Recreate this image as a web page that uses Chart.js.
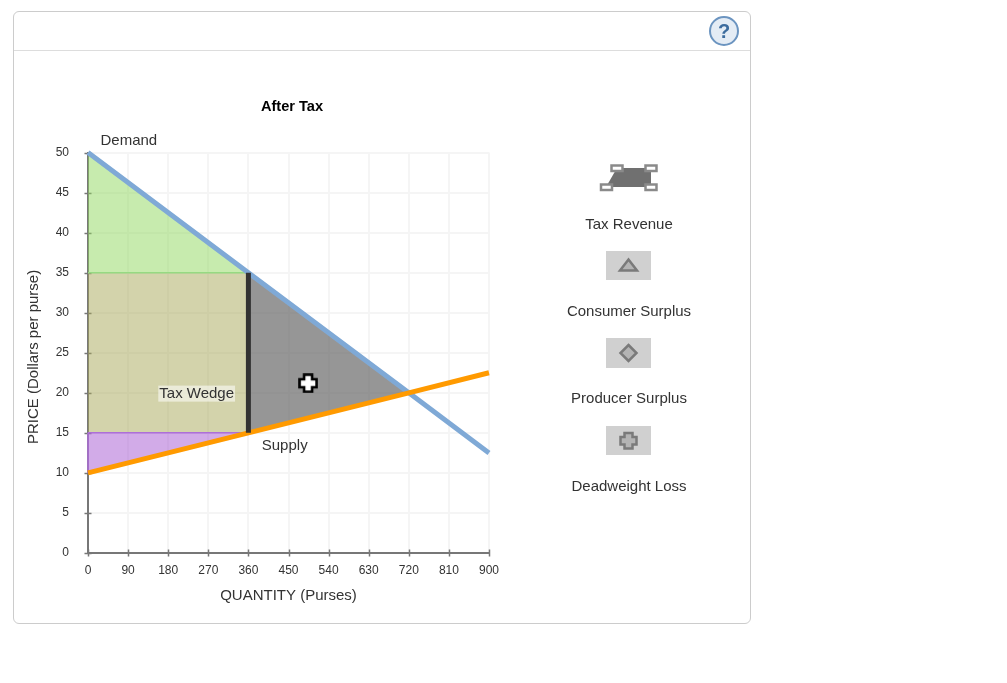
<!DOCTYPE html>
<html>
<head>
<meta charset="utf-8">
<title>After Tax</title>
<script src="https://cdn.jsdelivr.net/npm/chart.js@4"></script>
<style>
    html, body { margin: 0; padding: 0; background: #fff; }
    body { width: 1007px; height: 683px; position: relative; overflow: hidden; font-family: "Liberation Sans", Arial, sans-serif; color: #333; }
    #card { position: absolute; left: 13px; top: 11px; width: 736px; height: 611px; border: 1px solid #ccc; border-radius: 6px; }
    #cabecalho { position: absolute; left: 14px; top: 50px; width: 736px; height: 1px; background: #ddd; }
    #grafico { position: absolute; left: 0; top: 0; }
    #icones { position: absolute; left: 0; top: 0; }
    .rotulo { position: absolute; left: 549px; width: 160px; text-align: center; font-size: 15px; line-height: 18px; }
</style>
</head>
<body>
<div id="card"></div>
<div id="cabecalho"></div>
<canvas id="grafico" width="1007" height="683"></canvas>
<svg id="icones" width="1007" height="683">
    <circle cx="724" cy="31" r="14" fill="#e4ecf5" stroke="#6b94c0" stroke-width="2"/>
    <text x="724" y="38" text-anchor="middle" font-family="Liberation Sans" font-weight="bold" font-size="20" fill="#3d6c9e">?</text>

    <polygon points="617,168 651,168 651,187 606,187" fill="#707070"/>
    <g fill="#fff" stroke="#8a8a8a" stroke-width="2.5">
        <rect x="611.5" y="165.5" width="11" height="5.5"/>
        <rect x="645.5" y="165.5" width="11" height="5.5"/>
        <rect x="601" y="184.5" width="11" height="5.5"/>
        <rect x="645.5" y="184.5" width="11" height="5.5"/>
    </g>

    <g fill="#d0d0d0">
        <rect x="606" y="251" width="45" height="29"/>
        <rect x="606" y="338" width="45" height="30"/>
        <rect x="606" y="426" width="45" height="29"/>
    </g>
    <g fill="#b4b4b4" stroke="#7a7a7a" stroke-width="2.5">
        <polygon points="628.5,259.5 637,270.5 620,270.5"/>
        <polygon points="628.5,345 636.5,353 628.5,361 620.5,353"/>
        <polygon points="624.5,433 632.5,433 632.5,437 636.5,437 636.5,444.5 632.5,444.5 632.5,448.5 624.5,448.5 624.5,444.5 620.5,444.5 620.5,437 624.5,437"/>
    </g>
</svg>
<div class="rotulo" style="top:215px">Tax Revenue</div>
<div class="rotulo" style="top:302px">Consumer Surplus</div>
<div class="rotulo" style="top:389px">Producer Surplus</div>
<div class="rotulo" style="top:477px">Deadweight Loss</div>

<script>
// Dados
const quantidades = [0, 360, 720, 900];
const demanda = [50, 35, 20, 12.5];
const oferta = [10, 15, 20, 22.5];

const precoComprador = 35;
const precoVendedor = 15;
const qtdImposto = 360;
const qtdEquilibrio = 720;
const precoEquilibrio = 20;

// Marcador de peso morto colocado no gráfico
const marcadorX = [494];
const marcadorY = [21.2];

// Rótulos dentro da área do gráfico
const rotulosTexto = ['Demand', 'Supply', 'Tax Wedge'];
const rotulosX = [28, 390, 160];
const rotulosY = [51.5, 13.4, 19.9];

const passoX = 90;
const passoY = 5;

const fonte = 'Liberation Sans';
const corTexto = '#333';

function pontos(xs, ys) {
    return xs.map((x, i) => ({ x: x, y: ys[i] }));
}

// Ícone da cruz (mesmo formato da paleta) para o marcador
function criarCruz() {
    const c = document.createElement('canvas');
    c.width = 20;
    c.height = 20;
    const g = c.getContext('2d');
    g.beginPath();
    [[6, 1.5], [14, 1.5], [14, 6], [18.5, 6], [18.5, 14], [14, 14], [14, 18.5], [6, 18.5], [6, 14], [1.5, 14], [1.5, 6], [6, 6]]
        .forEach((p, i) => i ? g.lineTo(p[0], p[1]) : g.moveTo(p[0], p[1]));
    g.closePath();
    g.fillStyle = '#fff';
    g.strokeStyle = '#000';
    g.lineWidth = 2.6;
    g.fill();
    g.stroke();
    return c;
}

// Traços dos eixos cruzam a linha do eixo
const tracosEixos = {
    id: 'tracosEixos',
    beforeDraw(chart) {
        // O título fica um pouco à direita do centro da área do gráfico
        chart.titleBlock.left = chart.chartArea.left + 3.5;
        chart.titleBlock.right = chart.chartArea.right + 3.5;
    },
    beforeDatasetsDraw(chart) {
        const g = chart.ctx;
        const sx = chart.scales.x;
        const sy = chart.scales.y;
        g.save();
        g.strokeStyle = '#777';
        g.lineWidth = 1.5;
        g.beginPath();
        sx.ticks.forEach(t => {
            const px = Math.round(sx.getPixelForValue(t.value)) + 0.5;
            g.moveTo(px, sy.bottom - 3.5);
            g.lineTo(px, sy.bottom + 3.5);
        });
        sy.ticks.forEach(t => {
            const py = Math.round(sy.getPixelForValue(t.value)) + 0.5;
            g.moveTo(sx.left - 3.5, py);
            g.lineTo(sx.left + 3.5, py);
        });
        g.stroke();
        g.restore();
    }
};

// Rótulos Demand, Supply e Tax Wedge
const rotulosGrafico = {
    id: 'rotulosGrafico',
    afterDatasetsDraw(chart) {
        const g = chart.ctx;
        g.save();
        g.font = '15px "' + fonte + '"';
        g.textBaseline = 'middle';
        g.textAlign = 'left';
        rotulosTexto.forEach((texto, i) => {
            const px = chart.scales.x.getPixelForValue(rotulosX[i]);
            const py = chart.scales.y.getPixelForValue(rotulosY[i]);
            if (texto === 'Tax Wedge') {
                g.fillStyle = 'rgba(255,255,255,0.55)';
                g.fillRect(px - 1, py - 8, g.measureText(texto).width + 2, 16);
            }
            g.fillStyle = corTexto;
            g.fillText(texto, px, py);
        });
        g.restore();
    }
};

function linha(dados, cor, largura, extra) {
    return Object.assign({
        type: 'scatter',
        data: dados,
        showLine: true,
        borderColor: cor,
        borderWidth: largura,
        backgroundColor: cor,
        pointRadius: 0,
        clip: false,
        fill: false
    }, extra || {});
}

const ctx = document.getElementById('grafico').getContext('2d');
new Chart(ctx, {
    type: 'scatter',
    data: {
        // O Chart.js desenha o primeiro dataset por cima
        datasets: [
            // Marcador
            {
                type: 'scatter',
                data: pontos(marcadorX, marcadorY),
                pointStyle: criarCruz(),
                pointRadius: 10,
                clip: false
            },
            // Cunha fiscal
            linha(pontos([qtdImposto, qtdImposto], [precoVendedor, precoComprador]), '#333', 5),
            // Curvas
            linha(pontos(quantidades, oferta), '#ff9a00', 5),
            linha(pontos(quantidades, demanda), '#7fa9d6', 5),
            // Bordas das áreas
            linha(pontos([0, 0], [oferta[0], precoVendedor]), '#ad6fd8', 1.5),
            linha(pontos([0, qtdImposto], [precoVendedor, precoVendedor]), '#ad6fd8', 1.5),
            linha(pontos([0, qtdImposto], [precoComprador, precoComprador]), '#96d982', 1.5),
            // Peso morto: entre os dois trechos
            linha(pontos([qtdImposto, qtdEquilibrio], [precoComprador, precoEquilibrio]), 'rgba(0,0,0,0)', 0, { fill: '+1', backgroundColor: 'rgba(105,105,105,0.7)' }),
            linha(pontos([qtdImposto, qtdEquilibrio], [precoVendedor, precoEquilibrio]), 'rgba(0,0,0,0)', 0),
            // Excedente do produtor
            linha(pontos([0, qtdImposto], [oferta[0], precoVendedor]), 'rgba(0,0,0,0)', 0, { fill: { value: precoVendedor }, backgroundColor: 'rgba(165,87,209,0.5)' }),
            // Receita
            linha(pontos([0, qtdImposto], [precoComprador, precoComprador]), 'rgba(0,0,0,0)', 0, { fill: { value: precoVendedor }, backgroundColor: 'rgba(167,167,87,0.5)' }),
            // Excedente do consumidor
            linha(pontos([0, qtdImposto], [demanda[0], precoComprador]), 'rgba(0,0,0,0)', 0, { fill: { value: precoComprador }, backgroundColor: 'rgba(143,215,93,0.5)' })
        ]
    },
    options: {
        responsive: false,
        animation: false,
        layout: { padding: { left: 0, right: 518, top: 98, bottom: 78 } },
        plugins: {
            legend: { display: false },
            tooltip: { enabled: false },
            title: {
                display: true,
                text: 'After Tax',
                color: '#000',
                font: { family: fonte, size: 14.6, weight: 'bold' },
                padding: { top: 0, bottom: 37 }
            }
        },
        scales: {
            x: {
                type: 'linear',
                min: 0,
                max: 900,
                afterFit(scale) { scale.height = 52; },
                ticks: {
                    stepSize: passoX,
                    autoSkip: false,
                    maxRotation: 0,
                    padding: 10,
                    color: corTexto,
                    font: { family: fonte, size: 12 }
                },
                grid: { color: '#f5f5f5', lineWidth: 2, drawTicks: false },
                border: { color: '#777', width: 2 },
                title: {
                    display: true,
                    text: 'QUANTITY (Purses)',
                    color: corTexto,
                    font: { family: fonte, size: 15 },
                    padding: { top: 0, bottom: 0 }
                }
            },
            y: {
                type: 'linear',
                min: 0,
                max: 50,
                afterFit(scale) { scale.width = 88; },
                ticks: {
                    stepSize: passoY,
                    autoSkip: false,
                    padding: 19,
                    color: corTexto,
                    font: { family: fonte, size: 12 }
                },
                grid: { color: '#f5f5f5', lineWidth: 2, drawTicks: false },
                border: { color: '#777', width: 2 },
                title: {
                    display: true,
                    // espaços no fim descem o título alguns pixels, como no original
                    text: 'PRICE (Dollars per purse)  ',
                    color: corTexto,
                    font: { family: fonte, size: 15 },
                    padding: { top: 24.5, bottom: 0 }
                }
            }
        }
    },
    plugins: [tracosEixos, rotulosGrafico]
});
</script>
</body>
</html>
